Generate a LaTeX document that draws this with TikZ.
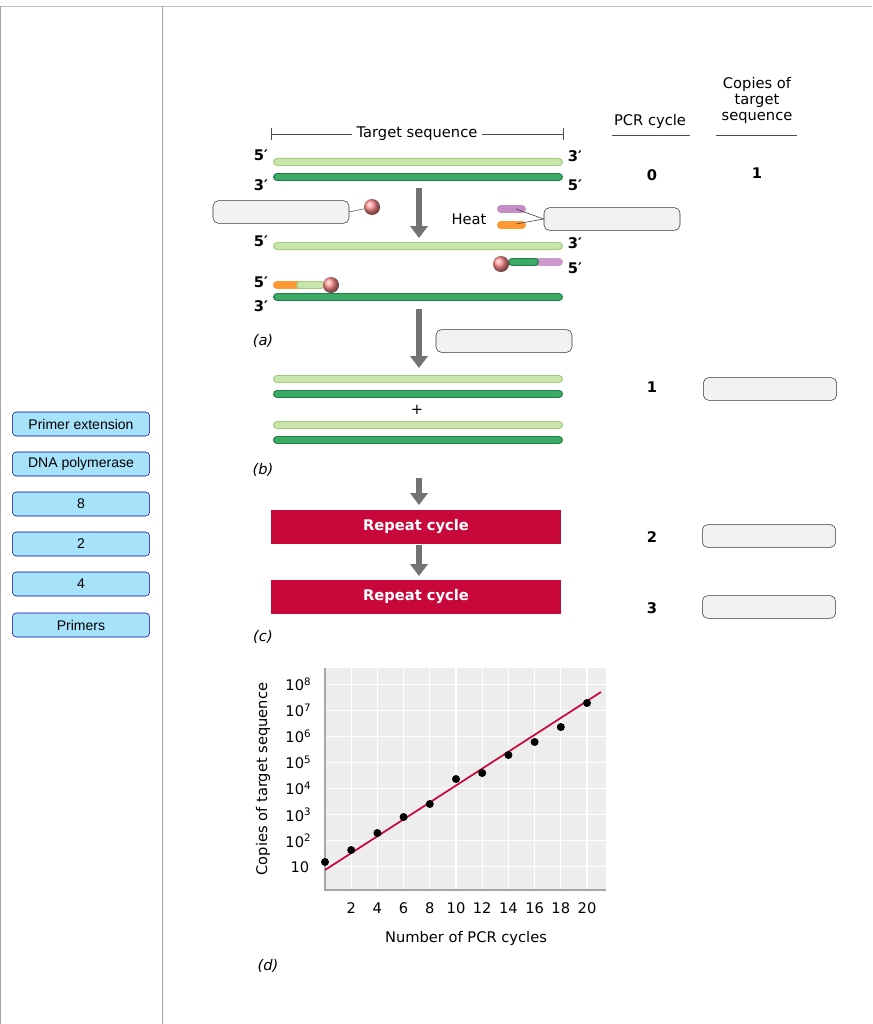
\documentclass[tikz,border=0pt]{standalone}
\usetikzlibrary{arrows.meta}
\usepackage{fontspec}
\setmainfont{DejaVu Sans}
\newfontfamily\arl{Liberation Sans}
\definecolor{crim}{RGB}{200,8,58}
\definecolor{lg}{RGB}{200,230,170}
\definecolor{lgb}{RGB}{160,205,130}
\definecolor{dg}{RGB}{60,170,100}
\definecolor{dgb}{RGB}{30,130,70}
\begin{document}
\begin{tikzpicture}[x=0.75pt,y=-0.75pt,
 light/.style={line width=6pt,draw=lgb,line cap=round},
 lightin/.style={line width=4pt,draw=lg,line cap=round},
 dark/.style={line width=6pt,draw=dgb,line cap=round},
 darkin/.style={line width=4pt,draw=dg,line cap=round},
 blank/.style={draw=black!80,fill=black!5,rounded corners=4pt,minimum height=17pt,inner sep=0pt},
 tag/.style={draw=blue!70!black,fill=cyan!35,rounded corners=3pt,minimum width=103pt,minimum height=18pt,inner sep=0pt,font=\arl\fontsize{10.5}{12}\selectfont},
 lab/.style={font=\bfseries\fontsize{11}{12}\selectfont},
 txt/.style={font=\fontsize{11}{13}\selectfont},
 bigarrow/.style={-{Triangle[length=9pt,width=13pt]},line width=4pt,draw=black!55},
 repeatbox/.style={fill=crim,minimum width=217pt,minimum height=26pt,text=white,font=\bfseries\fontsize{11}{13}\selectfont},
 ball/.style={circle,ball color=red!45!white,minimum size=12pt,inner sep=0pt}]
\useasboundingbox (0,0) rectangle (872,1024);
\draw[black!25] (0,6) -- (872,6);
\draw[black!35] (0.5,6) -- (0.5,1024);
\draw[black!35] (162,6) -- (162,1024);
% tags
\foreach \t/\y [count=\i] in {Primer extension/424,DNA polymerase/464,8/504,2/544,4/584,Primers/625}
  \node[tag] (tag\i) at (81,\y) {\t};
% headers
\node[txt,align=center] (hpcr) at (650,121) {PCR cycle};
\draw[black!70] (612,135) -- (690,135);
\node[txt,align=center,font=\fontsize{11}{12}\selectfont] (hcop) at (757,100) {Copies of\\target\\sequence};
\draw[black!70] (716,135) -- (797,135);
% target sequence
\node[txt] (ts) at (417,134) {Target sequence};
\draw[black!70] (271,134) -- (ts.west); \draw[black!70] (ts.east) -- (563,134);
\draw[black!70] (271,128) -- (271,140); \draw[black!70] (563,128) -- (563,140);
\newcommand{\lstr}[3]{\draw[light] (#1,#3) -- (#2,#3); \draw[lightin] (#1,#3) -- (#2,#3);}
\newcommand{\dstr}[3]{\draw[dark] (#1,#3) -- (#2,#3); \draw[darkin] (#1,#3) -- (#2,#3);}
\lstr{277}{559}{162}\dstr{277}{559}{177}
\node[lab] (a1) at (261,155) {5′}; \node[lab] (a2) at (575,156) {3′};
\node[lab] (a3) at (261,185) {3′}; \node[lab] (a4) at (575,185) {5′};
\node[lab] (c0) at (652,175) {0}; \node[lab] (n1) at (757,173) {1};
\coordinate (ar1s) at (419,188); \coordinate (ar1e) at (419,238);
\draw[bigarrow] (ar1s) -- (ar1e);
\node[blank,minimum width=102pt] (b1) at (281,212) {};
\node[ball] (ball1) at (372,207) {};
\draw[black!70] (b1.east) -- (ball1);
\node[txt] (heat) at (469,219) {Heat};
\draw[line width=6pt,draw=violet!45,line cap=round] (501,209) -- (522,209);
\draw[line width=6pt,draw=orange!80,line cap=round] (501,225) -- (522,225);
\node[blank,minimum width=102pt] (b2) at (612,219) {};
\coordinate (pp1) at (516,209); \coordinate (pp2) at (516,224);
\draw[black!80] (pp1) -- (b2.west) -- (pp2);
\lstr{277}{559}{246}
\node[lab] (a5) at (261,241) {5′}; \node[lab] (a6) at (575,243) {3′};
\draw[line width=6pt,draw=violet!40,line cap=round] (535,262) -- (559,262);
\dstr{512}{535}{262}
\node[ball] (ball2) at (501,264) {};
\node[lab] (a7) at (575,268) {5′};
\draw[line width=6pt,draw=orange!80,line cap=round] (277,285) -- (300,285);
\lstr{300}{321}{285}
\node[ball] (ball3) at (331,285) {};
\node[lab] (a8) at (261,282) {5′};
\dstr{277}{559}{297}
\node[lab] (a9) at (261,306) {3′};
\node[txt,font=\itshape\fontsize{11}{13}\selectfont] (la) at (263,341) {(a)};
\coordinate (ar2s) at (419,309); \coordinate (ar2e) at (419,368);
\draw[bigarrow] (ar2s) -- (ar2e);
\node[blank,minimum width=102pt] (b3) at (504,341) {};
\lstr{277}{559}{379}\dstr{277}{559}{394}
\node[txt] (plus) at (417,410) {+};
\lstr{277}{559}{425}\dstr{277}{559}{440}
\node[lab] (c1) at (652,387) {1};
\node[blank,minimum width=100pt] (b4) at (770,389) {};
\node[txt,font=\itshape\fontsize{11}{13}\selectfont] (lb) at (263,470) {(b)};
\coordinate (ar3s) at (419,478); \coordinate (ar3e) at (419,505);
\draw[bigarrow] (ar3s) -- (ar3e);
\node[repeatbox] (r1) at (416,527) {Repeat cycle};
\coordinate (ar4s) at (419,545); \coordinate (ar4e) at (419,576);
\draw[bigarrow] (ar4s) -- (ar4e);
\node[repeatbox] (r2) at (416,597) {Repeat cycle};
\node[lab] (c2) at (652,537) {2};
\node[blank,minimum width=100pt] (b5) at (769,536) {};
\node[lab] (c3) at (652,608) {3};
\node[blank,minimum width=100pt] (b6) at (769,607) {};
\node[txt,font=\itshape\fontsize{11}{13}\selectfont] (lc) at (263,637) {(c)};
% plot
\fill[black!7] (325,668) rectangle (606,890);
\foreach \c in {2,4,...,20} \draw[white,line width=0.8pt] ({325+13.1*\c},668) -- ({325+13.1*\c},890);
\foreach \d in {1,...,8} \draw[white,line width=0.8pt] (325,{893-26.1*\d}) -- (606,{893-26.1*\d});
\draw[black!35,line width=1.5pt] (325,668) -- (325,890) -- (606,890);
\draw[crim,line width=1.3pt] (325,870) -- (601,692);
\foreach \c/\y in {0/862,2/850,4/833,6/817,8/804,10/779,12/773,14/755,16/742,18/727,20/703}
  \fill ({325+13.1*\c},\y) circle (3pt);
\node[txt,anchor=east] (t1) at (314,867) {10};
\foreach \d in {2,...,8} \node[txt,anchor=east] at (316,{893-26.1*\d}) {10\textsuperscript{\d}};
\foreach \c in {2,4,...,20} \node[txt] at ({325+13.1*\c},908) {\c};
\node[txt] (xl) at (466,938) {Number of PCR cycles};
\node[txt,rotate=90] (yl) at (263,779) {Copies of target sequence};
\node[txt,font=\itshape\fontsize{11}{13}\selectfont] (ld) at (268,966) {(d)};
\end{tikzpicture}
\end{document}
